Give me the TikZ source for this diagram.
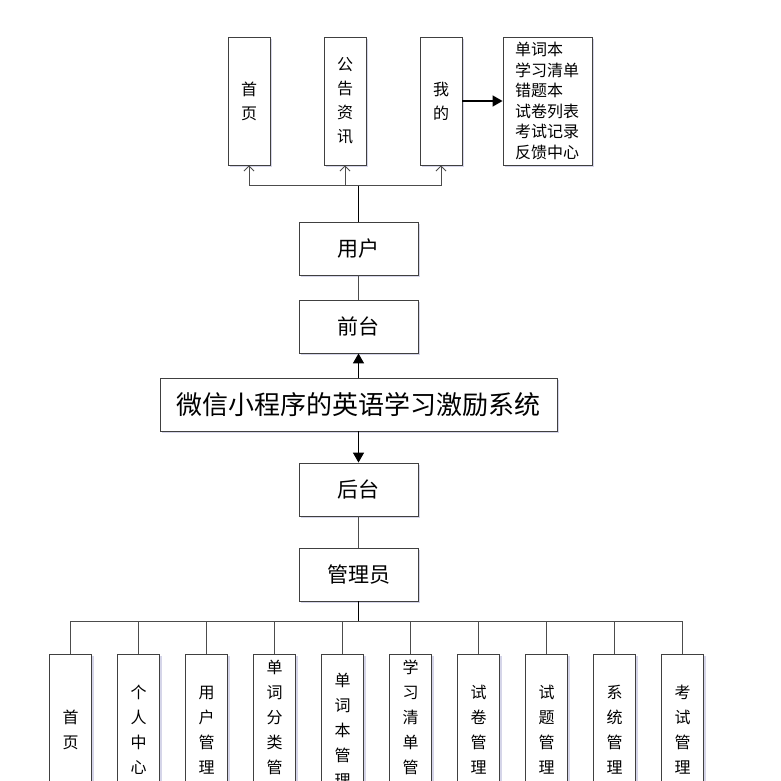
\documentclass[tikz,border=0pt]{standalone}
\usepackage{fontspec}
\setmainfont{Noto Sans CJK SC}
\usetikzlibrary{arrows.meta,shadows}

\tikzset{
    box/.style={draw=black!75, line width=0.9pt, fill=white, inner sep=0pt, align=center,
        drop shadow={opacity=0.25, fill=blue!30!gray, shadow xshift=2pt, shadow yshift=-2pt}},
    topbox/.style={box, minimum width=42pt, minimum height=128pt, font=\fontsize{16}{24}\selectfont},
    midbox/.style={box, minimum width=119pt, minimum height=53pt, font=\fontsize{21}{24}\selectfont},
    modbox/.style={box, minimum width=42pt, minimum height=152pt, font=\fontsize{16}{25}\selectfont},
    thinline/.style={draw=black!70, line width=0.8pt},
    openarrow/.style={thinline, -{Straight Barb[length=5pt,width=10pt]}},
    solidarrow/.style={draw=black, line width=1.6pt, -{Triangle[length=10pt,width=11pt]}}
}

\begin{document}
\begin{tikzpicture}[x=1pt, y=-1pt]

        \useasboundingbox (0,0) rectangle (781,781);

        % Front end: pages seen by the user
        \node[topbox] (shouye) at (249,101) {首\\页};
        \node[topbox] (gonggao) at (345,101) {公\\告\\资\\讯};
        \node[topbox] (wode) at (441,101) {我\\的};
        \node[box, minimum width=89pt, minimum height=128pt, text width=65pt, align=left,
              font=\fontsize{16}{20.5}\selectfont] (wodelist) at (547.5,101)
              {单词本\\学习清单\\错题本\\试卷列表\\考试记录\\反馈中心};

        % Middle column
        \node[midbox] (yonghu) at (358.5,248.5) {用户};
        \node[midbox] (qiantai) at (358.5,326.5) {前台};
        \node[box, minimum width=397pt, minimum height=53pt, font=\fontsize{26}{28}\selectfont]
              (xitong) at (358.5,404.5) {微信小程序的英语学习激励系统};
        \node[midbox] (houtai) at (358.5,489.5) {后台};
        \node[midbox] (guanli) at (358.5,574.5) {管理员};

        % Back end: admin modules
        \node[modbox] (m1) at (70.5,730) {首\\页};
        \node[modbox] (m2) at (138.5,730) {个\\人\\中\\心};
        \node[modbox] (m3) at (206.5,730) {用\\户\\管\\理};
        \node[modbox] (m4) at (274.5,730) {单\\词\\分\\类\\管\\理};
        \node[modbox] (m5) at (342.5,730) {单\\词\\本\\管\\理};
        \node[modbox] (m6) at (410.5,730) {学\\习\\清\\单\\管\\理};
        \node[modbox] (m7) at (478.5,730) {试\\卷\\管\\理};
        \node[modbox] (m8) at (546.5,730) {试\\题\\管\\理};
        \node[modbox] (m9) at (614.5,730) {系\\统\\管\\理};
        \node[modbox] (m10) at (682.5,730) {考\\试\\管\\理};

        % Upper bus
        \coordinate (topbus) at (358.5,185);
        \draw[draw=black, line width=1.4pt] (yonghu.north) -- (topbus);
        \draw[openarrow] (topbus) -| (shouye.south);
        \draw[openarrow] (topbus) -| (wode.south);
        \draw[openarrow] (gonggao.south |- topbus) -- (gonggao.south);
        \draw[solidarrow] (wode.east) -- (wodelist.west);

        % Middle links
        \draw[thinline] (yonghu.south) -- (qiantai.north);
        \draw[solidarrow] (xitong.north) -- (qiantai.south);
        \draw[solidarrow] (xitong.south) -- (houtai.north);
        \draw[thinline] (houtai.south) -- (guanli.north);

        % Lower bus
        \coordinate (botbus) at (358.5,621);
        \draw[draw=black, line width=1.4pt] (guanli.south) -- (botbus);
        \foreach \i in {1,...,10}
            \draw[thinline] (botbus) -| (m\i.north);

\end{tikzpicture}
\end{document}
